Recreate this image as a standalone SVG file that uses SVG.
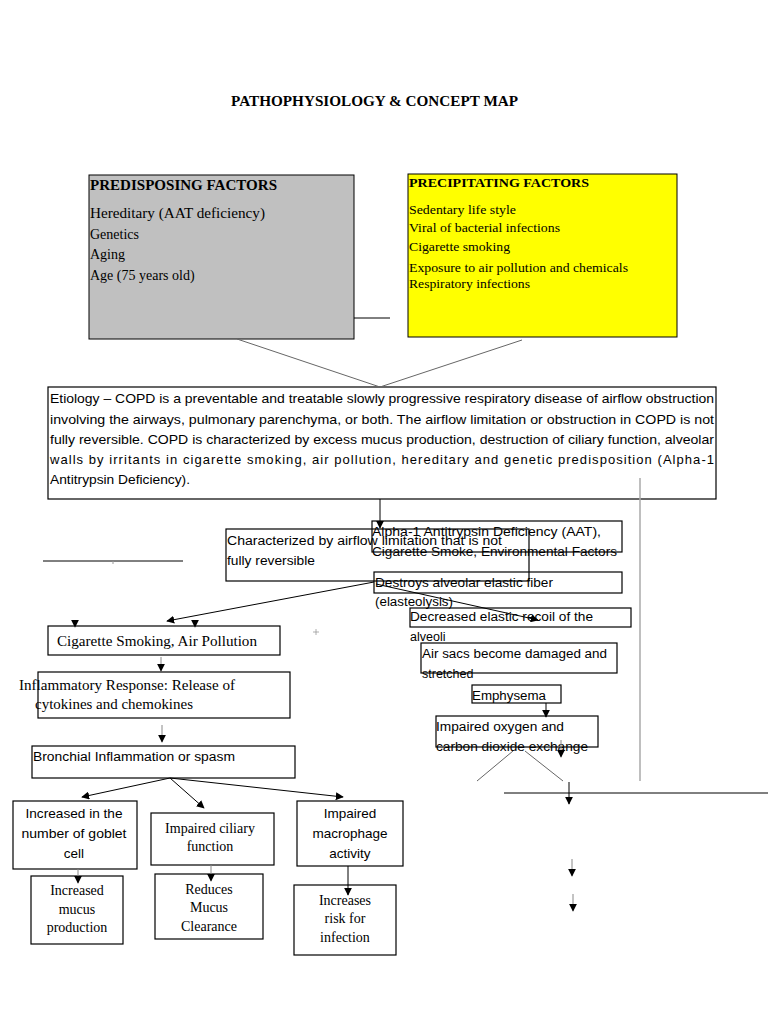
<svg xmlns="http://www.w3.org/2000/svg" width="768" height="1024" viewBox="0 0 768 1024">
<defs>
<style>
.serif{font-family:"Liberation Serif","Times New Roman",serif;fill:#000}
.sans{font-family:"Liberation Sans",Arial,sans-serif;fill:#000}
.box{fill:#fff;stroke:#000;stroke-width:1.2}
.ln{stroke:#000;stroke-width:1;fill:none}
.gl{stroke:#666;stroke-width:1;fill:none}
.arr{stroke:#000;stroke-width:1;fill:none;marker-end:url(#ah)}
.garr{stroke:#888;stroke-width:1;fill:none;marker-end:url(#ah)}
</style>
<marker id="ah" viewBox="0 0 10 10" refX="9" refY="5" markerWidth="8" markerHeight="8" markerUnits="userSpaceOnUse" orient="auto">
<path d="M0,0 L10,5 L0,10 z" fill="#000"/>
</marker>
</defs>
<rect width="768" height="1024" fill="#fff"/>

<text class="serif" x="231" y="106" font-size="14" font-weight="bold" textLength="287" lengthAdjust="spacingAndGlyphs">PATHOPHYSIOLOGY &amp; CONCEPT MAP</text>

<g id="predisposing">
<rect x="89" y="175" width="265" height="164" fill="#c0c0c0" stroke="#000" stroke-width="1"/>
<text class="serif" x="90" y="190" font-size="14" font-weight="bold" textLength="187" lengthAdjust="spacingAndGlyphs">PREDISPOSING FACTORS</text>
<text class="serif" x="90" y="218" font-size="14" textLength="175" lengthAdjust="spacingAndGlyphs">Hereditary (AAT deficiency)</text>
<text class="serif" x="90" y="239" font-size="14">Genetics</text>
<text class="serif" x="90" y="259" font-size="14">Aging</text>
<text class="serif" x="90" y="280" font-size="14">Age (75 years old)</text>
</g>

<g id="precipitating">
<rect x="408" y="174" width="269" height="163" fill="#ffff00" stroke="#000" stroke-width="1"/>
<text class="serif" x="409" y="187" font-size="13" font-weight="bold" textLength="180" lengthAdjust="spacingAndGlyphs">PRECIPITATING FACTORS</text>
<text class="serif" x="409" y="214" font-size="13" textLength="107" lengthAdjust="spacingAndGlyphs">Sedentary life style</text>
<text class="serif" x="409" y="232" font-size="13" textLength="151" lengthAdjust="spacingAndGlyphs">Viral of bacterial infections</text>
<text class="serif" x="409" y="251" font-size="13" textLength="101" lengthAdjust="spacingAndGlyphs">Cigarette smoking</text>
<text class="serif" x="409" y="272" font-size="13" textLength="219" lengthAdjust="spacingAndGlyphs">Exposure to air pollution and chemicals</text>
<text class="serif" x="409" y="288" font-size="13" textLength="121" lengthAdjust="spacingAndGlyphs">Respiratory infections</text>
</g>

<g id="etiology">
<rect class="box" x="48" y="387" width="668" height="112"/>
<text class="sans" x="50" y="403" font-size="13" textLength="664" lengthAdjust="spacingAndGlyphs">Etiology – COPD is a preventable and treatable slowly progressive respiratory disease of airflow obstruction</text>
<text class="sans" x="50" y="424" font-size="13" textLength="664" lengthAdjust="spacingAndGlyphs">involving the airways, pulmonary parenchyma, or both. The airflow limitation or obstruction in COPD is not</text>
<text class="sans" x="50" y="444" font-size="13" textLength="664" lengthAdjust="spacingAndGlyphs">fully reversible. COPD is characterized by excess mucus production, destruction of ciliary function, alveolar</text>
<text class="sans" x="50" y="464" font-size="13" textLength="664" lengthAdjust="spacing">walls by irritants in cigarette smoking, air pollution, hereditary and genetic predisposition (Alpha-1</text>
<text class="sans" x="50" y="484" font-size="13" textLength="140" lengthAdjust="spacingAndGlyphs">Antitrypsin Deficiency).</text>
</g>

<g id="alpha">
<rect x="372" y="521" width="250" height="31" fill="none" stroke="#000" stroke-width="1.2"/>
<text class="sans" x="372" y="536" font-size="12.5" textLength="229" lengthAdjust="spacingAndGlyphs">Alpha-1 Antitrypsin Deficiency (AAT),</text>
<text class="sans" x="372" y="556" font-size="12.5" textLength="245" lengthAdjust="spacingAndGlyphs">Cigarette Smoke, Environmental Factors</text>
</g>

<g id="characterized">
<rect x="226" y="529" width="303" height="52" fill="none" stroke="#000" stroke-width="1.2"/>
<text class="sans" x="227" y="545" font-size="12.5" textLength="275" lengthAdjust="spacingAndGlyphs">Characterized by airflow limitation that is not</text>
<text class="sans" x="227" y="565" font-size="12.5" textLength="88" lengthAdjust="spacingAndGlyphs">fully reversible</text>
</g>

<g id="destroys">
<rect x="374" y="572" width="248" height="21" fill="none" stroke="#000" stroke-width="1.2"/>
<text class="sans" x="375" y="587" font-size="12.5" textLength="178" lengthAdjust="spacingAndGlyphs">Destroys alveolar elastic fiber</text>
<text class="sans" x="375" y="606" font-size="12.5" textLength="78" lengthAdjust="spacingAndGlyphs">(elasteolysis)</text>
</g>

<g id="decreased">
<rect x="410" y="608" width="221" height="19" fill="none" stroke="#000" stroke-width="1.2"/>
<text class="sans" x="410" y="621" font-size="12.5" textLength="183" lengthAdjust="spacingAndGlyphs">Decreased elastic recoil of the</text>
<text class="sans" x="410" y="641" font-size="12.5">alveoli</text>
</g>

<g id="airsacs">
<rect x="421" y="643" width="196" height="30" fill="none" stroke="#000" stroke-width="1.2"/>
<text class="sans" x="422" y="658" font-size="12.5" textLength="185" lengthAdjust="spacingAndGlyphs">Air sacs become damaged and</text>
<text class="sans" x="422" y="678" font-size="12.5">stretched</text>
</g>

<g id="emphysema">
<rect x="472" y="685" width="89" height="18" fill="none" stroke="#000" stroke-width="1.2"/>
<text class="sans" x="472" y="700" font-size="12.5" textLength="74" lengthAdjust="spacingAndGlyphs">Emphysema</text>
</g>

<g id="impairedO2">
<rect x="436" y="716" width="162" height="31" fill="none" stroke="#000" stroke-width="1.2"/>
<text class="sans" x="436" y="731" font-size="12.5" textLength="128" lengthAdjust="spacingAndGlyphs">Impaired oxygen and</text>
<text class="sans" x="436" y="751" font-size="12.5" textLength="152" lengthAdjust="spacingAndGlyphs">carbon dioxide exchange</text>
</g>

<g id="cigarette">
<rect class="box" x="48" y="626" width="232" height="29"/>
<text class="serif" x="57" y="646" font-size="14" textLength="200" lengthAdjust="spacingAndGlyphs">Cigarette Smoking, Air Pollution</text>
</g>

<g id="inflammatory">
<rect class="box" x="38" y="672" width="252" height="46"/>
<text class="serif" x="19" y="690" font-size="14" textLength="216" lengthAdjust="spacingAndGlyphs">Inflammatory Response: Release of</text>
<text class="serif" x="35" y="709" font-size="14" textLength="158" lengthAdjust="spacingAndGlyphs">cytokines and chemokines</text>
</g>

<g id="bronchial">
<rect class="box" x="32" y="746" width="263" height="32"/>
<text class="sans" x="33" y="761" font-size="12.5" textLength="202" lengthAdjust="spacingAndGlyphs">Bronchial Inflammation or spasm</text>
</g>

<g id="goblet">
<rect class="box" x="13" y="801" width="124" height="68"/>
<text class="sans" x="74" y="818" font-size="13.5" text-anchor="middle" textLength="97" lengthAdjust="spacingAndGlyphs">Increased in the</text>
<text class="sans" x="74" y="838" font-size="13.5" text-anchor="middle" textLength="105" lengthAdjust="spacingAndGlyphs">number of goblet</text>
<text class="sans" x="74" y="858" font-size="13.5" text-anchor="middle">cell</text>
</g>

<g id="ciliary">
<rect class="box" x="151" y="813" width="123" height="52"/>
<text class="serif" x="210" y="833" font-size="14" text-anchor="middle">Impaired ciliary</text>
<text class="serif" x="210" y="851" font-size="14" text-anchor="middle">function</text>
</g>

<g id="macrophage">
<rect class="box" x="297" y="801" width="106" height="65"/>
<text class="sans" x="350" y="818" font-size="13.5" text-anchor="middle">Impaired</text>
<text class="sans" x="350" y="838" font-size="13.5" text-anchor="middle">macrophage</text>
<text class="sans" x="350" y="858" font-size="13.5" text-anchor="middle">activity</text>
</g>

<g id="mucusprod">
<rect class="box" x="31" y="876" width="92" height="68" stroke-width="1.5"/>
<text class="serif" x="77" y="895" font-size="14" text-anchor="middle">Increased</text>
<text class="serif" x="77" y="914" font-size="14" text-anchor="middle">mucus</text>
<text class="serif" x="77" y="932" font-size="14" text-anchor="middle">production</text>
</g>

<g id="clearance">
<rect class="box" x="155" y="874" width="108" height="65" stroke-width="2"/>
<text class="serif" x="209" y="894" font-size="14" text-anchor="middle">Reduces</text>
<text class="serif" x="209" y="912" font-size="14" text-anchor="middle">Mucus</text>
<text class="serif" x="209" y="931" font-size="14" text-anchor="middle">Clearance</text>
</g>

<g id="infection">
<rect class="box" x="294" y="885" width="102" height="70" stroke-width="1.5"/>
<text class="serif" x="345" y="905" font-size="14" text-anchor="middle">Increases</text>
<text class="serif" x="345" y="923" font-size="14" text-anchor="middle">risk for</text>
<text class="serif" x="345" y="942" font-size="14" text-anchor="middle">infection</text>
</g>

<g id="connectors">
<line class="ln" x1="354" y1="318" x2="390" y2="318"/>
<line class="gl" x1="237" y1="339" x2="380" y2="387"/>
<line class="gl" x1="522" y1="340" x2="380" y2="387"/>
<line class="arr" x1="380" y1="499" x2="380" y2="528"/>
<line x1="640" y1="478" x2="640" y2="781" stroke="#aaa" stroke-width="1.5"/>
<line class="ln" x1="43" y1="561" x2="183" y2="561"/>
<line x1="113" y1="561" x2="113" y2="564" stroke="#999" stroke-width="1"/>
<line class="arr" x1="374" y1="582" x2="167" y2="621"/>
<line class="arr" x1="376" y1="584" x2="538" y2="620"/>
<line class="garr" x1="75" y1="620" x2="75" y2="627"/>
<line class="garr" x1="195" y1="620" x2="195" y2="627"/>
<path d="M313,632 h6 M316,629 v6" stroke="#999" stroke-width="0.8"/>
<line class="garr" x1="161" y1="657" x2="161" y2="671"/>
<line class="garr" x1="162" y1="725" x2="162" y2="742"/>
<line class="arr" x1="170" y1="778" x2="82" y2="797"/>
<line class="arr" x1="170" y1="778" x2="204" y2="808"/>
<line class="arr" x1="170" y1="778" x2="343" y2="797"/>
<line class="garr" x1="78" y1="869" x2="78" y2="883"/>
<line class="garr" x1="211" y1="865" x2="211" y2="881"/>
<line class="arr" x1="348" y1="866" x2="348" y2="895"/>
<line class="arr" x1="546" y1="703" x2="546" y2="717"/>
<line class="garr" x1="561" y1="740" x2="561" y2="757"/>
<line class="gl" x1="513" y1="751" x2="477" y2="781"/>
<line class="gl" x1="525" y1="751" x2="563" y2="781"/>
<line class="ln" x1="504" y1="793" x2="768" y2="793"/>
<line class="arr" x1="569" y1="782" x2="569" y2="804"/>
<line class="garr" x1="572" y1="859" x2="572" y2="876"/>
<line class="garr" x1="573" y1="894" x2="573" y2="911"/>
</g>
</svg>
